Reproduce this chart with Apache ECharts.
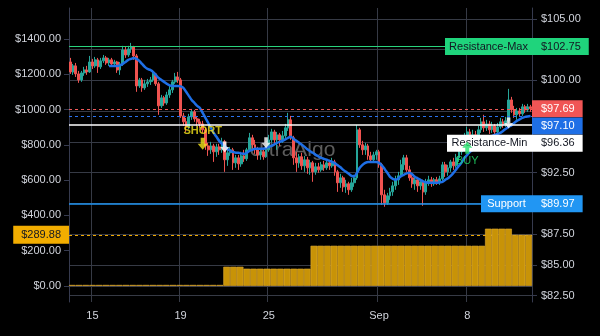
<!DOCTYPE html>
<html>
<head>
<meta charset="utf-8">
<script src="https://cdn.jsdelivr.net/npm/echarts@6/dist/echarts.min.js"></script>
<style>
  html, body { margin: 0; padding: 0; background: #000; }
  #chart { width: 600px; height: 336px; }
</style>
</head>
<body>
<div id="chart"></div>
<script>
// Day markers on the time axis (candle index -> label)
const dayTicks = [8, 40, 72, 112, 144];
const dayLabels = ['15', '19', '25', 'Sep', '8'];

// Candles: [open, close, low, high]
const ohlc = [
  [101.50,100.69,100.53,101.83],[100.69,101.18,100.45,101.34],[101.18,100.53,100.28,101.42],[100.53,100.04,99.80,100.77],
  [100.04,100.61,99.88,100.77],[100.61,100.85,100.37,101.10],[100.85,100.69,100.45,101.18],[100.69,101.50,100.61,101.99],
  [101.50,101.18,100.93,101.75],[101.18,101.67,101.02,101.91],[101.67,101.10,100.61,101.83],[101.10,101.59,100.93,101.83],
  [101.59,101.83,101.42,102.07],[101.83,101.42,101.26,101.99],[101.42,101.67,101.18,101.83],[101.67,101.34,101.10,101.83],
  [101.34,101.50,101.18,101.67],[101.50,100.85,100.61,101.59],[100.85,101.34,100.45,101.50],[101.34,102.48,101.18,102.81],
  [102.48,102.07,101.83,102.72],[102.07,102.56,101.91,102.81],[102.56,102.72,102.24,103.05],[102.72,101.99,101.67,102.81],
  [101.99,99.55,99.07,102.15],[99.55,100.04,99.39,100.20],[100.04,99.39,99.07,100.20],[99.39,99.72,99.23,100.04],
  [99.72,99.88,99.47,100.12],[99.88,100.04,99.63,100.28],[100.04,100.53,99.88,100.85],[100.53,99.72,99.55,100.61],
  [99.72,97.93,97.20,99.88],[97.93,98.58,97.76,98.82],[98.58,98.17,97.93,98.74],[98.17,98.82,98.01,99.07],
  [98.82,99.23,98.58,99.55],[99.23,99.88,98.98,100.04],[99.88,100.28,99.72,100.61],[100.28,100.04,99.80,100.69],
  [100.04,97.11,96.95,100.20],[97.11,96.63,96.30,97.36],[96.63,96.22,95.81,96.95],[96.22,97.03,96.06,97.28],
  [97.03,97.44,96.79,97.68],[97.44,96.87,96.63,97.60],[96.87,96.63,96.30,97.11],[96.63,96.46,96.14,96.87],
  [96.46,95.98,95.73,96.71],[95.98,94.67,94.35,96.14],[94.67,94.35,93.86,94.92],[94.35,94.67,94.02,95.00],
  [94.67,94.19,93.37,94.84],[94.19,94.59,93.78,94.84],[94.59,94.35,93.94,94.84],[94.35,95.00,94.11,95.33],
  [95.00,93.54,92.56,95.16],[93.54,94.11,93.05,94.35],[94.11,94.35,93.86,94.59],[94.35,93.29,92.72,94.51],
  [93.29,93.70,92.89,93.94],[93.70,93.21,92.72,93.94],[93.21,93.86,92.97,94.19],[93.86,93.62,93.37,94.35],
  [93.62,94.35,93.45,94.51],[94.35,95.33,94.19,95.73],[95.33,94.76,94.35,95.57],[94.76,94.35,94.02,95.16],
  [94.35,93.94,93.54,94.59],[93.94,94.19,93.54,94.43],[94.19,93.78,93.54,94.51],[93.78,94.35,93.70,94.67],
  [94.35,95.16,94.19,95.57],[95.16,95.81,94.92,96.06],[95.81,95.16,94.76,95.98],[95.16,95.57,94.35,95.81],
  [95.57,95.16,94.67,95.73],[95.16,95.49,94.92,95.89],[95.49,96.14,95.24,96.46],[96.14,96.79,95.89,97.36],
  [96.79,95.33,95.16,97.11],[95.33,93.70,93.13,95.49],[93.70,93.29,92.56,94.19],[93.29,93.78,92.89,94.02],
  [93.78,93.05,92.72,94.11],[93.05,93.54,92.56,93.86],[93.54,92.89,92.40,93.78],[92.89,93.29,92.32,93.54],
  [93.29,92.56,91.75,93.45],[92.56,92.97,92.32,93.29],[92.97,92.72,92.48,93.29],[92.72,93.13,92.56,93.37],
  [93.13,92.89,92.64,93.45],[92.89,93.29,92.72,93.62],[93.29,93.05,92.72,93.54],[93.05,93.37,92.89,93.70],
  [93.37,92.56,92.24,93.54],[92.56,91.67,90.93,92.72],[91.67,92.07,91.26,92.40],[92.07,91.34,90.93,92.24],
  [91.34,91.59,90.85,91.91],[91.59,91.10,90.69,91.75],[91.10,91.67,90.93,92.07],[91.67,92.07,91.34,92.32],
  [92.07,95.98,91.91,96.38],[95.98,94.76,94.51,96.14],[94.76,94.35,93.94,95.08],[94.35,94.67,93.94,94.92],
  [94.67,93.86,93.54,94.84],[93.86,93.54,93.29,94.19],[93.54,93.94,93.29,94.19],[93.94,94.19,93.54,94.35],
  [94.19,93.13,92.89,94.35],[93.13,90.69,89.88,93.29],[90.69,90.04,89.72,91.10],[90.04,90.61,89.88,90.85],
  [90.61,90.93,90.28,91.26],[90.93,91.42,90.61,91.75],[91.42,91.91,91.10,92.24],[91.91,92.24,91.50,92.56],
  [92.24,93.13,92.07,93.54],[93.13,93.70,92.72,93.94],[93.70,92.72,92.56,93.94],[92.72,92.07,91.83,93.05],
  [92.07,91.59,91.26,92.32],[91.59,91.91,91.10,92.15],[91.91,91.42,90.93,92.15],[91.42,91.75,91.10,91.99],
  [91.75,90.93,89.80,91.91],[90.93,91.67,90.69,91.99],[91.67,91.91,91.42,92.24],[91.91,91.59,91.34,92.15],
  [91.59,91.91,91.42,92.07],[91.91,91.67,91.50,92.15],[91.67,91.99,91.50,92.24],[91.99,93.13,91.83,93.37],
  [93.13,92.56,92.15,93.37],[92.56,92.89,92.24,93.13],[92.89,93.37,92.56,93.54],[93.37,93.05,92.72,93.70],
  [93.05,93.70,92.89,94.02],[93.70,94.19,93.37,94.35],[94.19,94.59,93.94,94.84],[94.59,95.41,94.35,95.73],
  [95.41,95.81,95.00,96.22],[95.81,95.33,95.00,96.06],[95.33,95.57,94.92,95.98],[95.57,95.16,94.84,95.89],
  [95.16,95.98,95.00,96.30],[95.98,96.63,95.73,96.95],[96.63,96.14,95.81,97.20],[96.14,96.46,95.89,96.79],
  [96.46,95.98,95.65,96.71],[95.98,96.30,95.73,96.63],[96.30,95.81,95.49,96.46],[95.81,96.22,95.65,96.54],
  [96.22,96.63,96.06,96.95],[96.63,96.38,96.14,96.87],[96.38,96.71,96.22,97.03],[96.71,98.41,96.46,99.31],
  [98.41,97.60,97.36,98.66],[97.60,97.20,96.95,97.93],[97.20,97.52,96.79,97.76],[97.52,97.28,97.03,97.76],
  [97.28,97.85,97.11,98.09],[97.85,97.60,97.36,98.01],[97.60,97.85,97.44,98.09],[97.85,97.69,97.44,98.01]
];

// Trend line (moving average), starts once its window is filled
const maTrend = [
  null,null,null,null,null,null,null,null,null,null,null,null,null,null,
  101.18,101.18,101.18,101.18,
  101.22,101.34,101.50,101.67,101.75,101.83,
  101.75,101.59,101.34,101.10,100.93,100.85,
  100.69,100.45,100.20,100.04,99.88,99.72,
  99.59,99.55,99.55,99.55,99.51,99.39,
  99.07,98.74,98.41,98.17,97.93,97.76,
  97.36,96.95,96.54,96.14,95.73,95.41,
  95.08,94.84,94.67,94.43,94.27,94.19,
  94.11,94.11,94.06,94.02,94.11,94.27,
  94.35,94.43,94.43,94.43,94.43,94.51,
  94.59,94.67,94.80,94.92,95.00,95.08,
  95.20,95.33,95.41,95.24,95.08,94.92,
  94.76,94.59,94.39,94.23,94.11,93.94,
  93.82,93.70,93.62,93.54,93.45,93.37,
  93.25,93.09,92.93,92.72,92.56,92.40,
  92.24,92.20,92.48,92.89,93.13,93.29,
  93.37,93.37,93.37,93.37,93.29,93.09,
  92.80,92.48,92.15,91.99,91.91,92.03,
  92.20,92.32,92.44,92.48,92.36,92.15,
  92.03,91.91,91.79,91.71,91.67,91.67,
  91.67,91.67,91.71,91.75,91.91,92.03,
  92.24,92.48,92.76,93.05,93.33,93.70,
  93.94,94.19,94.35,94.55,94.76,94.92,
  95.08,95.24,95.37,95.49,95.57,95.65,
  95.73,95.89,96.06,96.22,96.34,96.54,
  96.71,96.83,96.95,97.03,97.07,97.10
];

// Cumulative strategy profit, one step per bar period
const pnlSteps = [
  0,0,0,0,0,0,0,0,0,0,0,0,0,0,0,0,0,0,0,0,0,0,0,
  109,109,109,
  98,98,98,98,98,98,98,98,98,98,
  228,228,228,228,228,228,228,228,228,228,228,228,228,
  228,228,228,228,228,228,228,228,228,228,228,228,228,
  325,325,325,325,
  289.88,289.88,289.88
];

// Price levels
const resistanceMax = 102.75;
const resistanceMin = 96.36;
const supportLevel = 89.97;
const lastClose = ohlc[ohlc.length - 1][1];
const lastTrend = maTrend[maTrend.length - 1];
const lastPnl = pnlSteps[pnlSteps.length - 1];

// Trade signals: [candle index, price]
const shortSignals = [[48, 94.84]];
const exitSignals = [[56, 94.59], [71, 94.92], [159, 96.54]];
const buySignals = [[144, 94.51]];

const FONT = '"Liberation Sans", Arial, sans-serif';
const GRID = '#363a45';
const AXIS = '#363a4e';
const TEXT = '#d1d4dc';
const UP = '#26a69a';
const DOWN = '#ef5350';
const TREND = '#1e6fe6';

const money = v => '$' + v.toFixed(2);

// Tag on the right edge for a price level, with an optional name box inside the plot
function levelTag(value, bg, fg, name, nameWidth, drop) {
  let fmt = drop ? '{g| }\n' : '';
  if (name) fmt += '{n|' + name + '}';
  fmt += '{p|' + money(value) + '}';
  return {
    show: true,
    position: 'end',
    distance: name ? -(nameWidth + 8) : 0,
    formatter: fmt,
    rich: {
      g: { fontSize: 1, lineHeight: drop || 1, height: drop || 1, color: 'transparent' },
      n: { backgroundColor: bg, color: fg, padding: [3, 4], width: nameWidth, align: 'center',
           fontSize: 11, lineHeight: 13, fontFamily: FONT },
      p: { backgroundColor: bg, color: fg, padding: [3, 8, 3, 9],
           fontSize: 11, lineHeight: 13, fontFamily: FONT }
    }
  };
}

const downArrow = 'path://M3,0 L7,0 L7,6 L10,6 L5,12 L0,6 L3,6 Z';
const upArrow = 'path://M5,0 L10,6 L7,6 L7,12 L3,12 L3,6 L0,6 Z';

const tickOn = idx => dayTicks.indexOf(idx) >= 0;

const chart = echarts.init(document.getElementById('chart'), null, { renderer: 'canvas' });

chart.setOption({
  backgroundColor: '#000000',
  animation: false,
  grid: { left: 69, right: 68, top: 8, bottom: 34, containLabel: false, outerBoundsMode: 'none' },
  graphic: [{
    type: 'text', left: 249, top: 140, z: 0, silent: true,
    style: { text: 'UltraAlgo', fill: 'rgba(150,150,150,0.62)', font: '21px ' + FONT }
  }],
  xAxis: [{
    type: 'category',
    data: ohlc.map((_, i) => String(i)),
    boundaryGap: true,
    axisLine: { lineStyle: { color: AXIS } },
    axisTick: { show: true, interval: tickOn, length: 4, lineStyle: { color: GRID } },
    splitLine: { show: true, interval: tickOn, lineStyle: { color: GRID } },
    axisLabel: {
      interval: tickOn, color: TEXT, fontSize: 11, fontFamily: FONT, margin: 8,
      formatter: (v, i) => dayLabels[dayTicks.indexOf(i)] || ''
    }
  }, {
    type: 'category',
    data: pnlSteps.map((_, i) => String(i)),
    show: false,
    boundaryGap: true
  }],
  yAxis: [{
    type: 'value', position: 'left',
    min: -91, max: 1577, minInterval: 200, maxInterval: 200,
    axisLine: { show: true, lineStyle: { color: AXIS } },
    axisTick: { show: true, length: 5, lineStyle: { color: AXIS } },
    splitLine: { show: false },
    axisLabel: { color: TEXT, fontSize: 11, fontFamily: FONT, margin: 8,
                 showMinLabel: false, showMaxLabel: false, formatter: money }
  }, {
    type: 'value', position: 'right',
    min: 81.97, max: 105.89, minInterval: 2.5, maxInterval: 2.5,
    axisLine: { show: true, lineStyle: { color: AXIS } },
    axisTick: { show: true, length: 5, lineStyle: { color: AXIS } },
    splitLine: { show: true, showMinLine: false, showMaxLine: false, lineStyle: { color: GRID } },
    axisLabel: { color: TEXT, fontSize: 11, fontFamily: FONT, margin: 9,
                 showMinLabel: false, showMaxLabel: false, formatter: money }
  }],
  series: [{
    name: 'P&L',
    type: 'bar',
    xAxisIndex: 1, yAxisIndex: 0,
    data: pnlSteps,
    barCategoryGap: '0%',
    barMinHeight: 1,
    itemStyle: { color: '#c89307', borderColor: '#e3ad33', borderWidth: 0.6 },
    markLine: {
      silent: true, symbol: 'none', z: 1,
      lineStyle: { color: '#f0a800', type: [3, 3], width: 1 },
      label: {
        show: true, position: 'start', distance: 0,
        formatter: () => money(lastPnl),
        backgroundColor: '#f2ad00', color: '#131722', padding: [4, 8, 3, 8],
        fontSize: 11, fontFamily: FONT
      },
      data: [{ yAxis: lastPnl }]
    }
  }, {
    name: 'Price',
    type: 'candlestick',
    xAxisIndex: 0, yAxisIndex: 1,
    data: ohlc,
    barWidth: '85%',
    itemStyle: { color: UP, color0: DOWN, borderColor: UP, borderColor0: DOWN, borderWidth: 1 },
    markLine: {
      silent: true, symbol: 'none',
      data: [
        { yAxis: resistanceMax, lineStyle: { color: '#2ad37e', type: 'solid', width: 1.2 },
          label: levelTag(resistanceMax, '#1fd47c', '#131722', 'Resistance-Max', 79, 0) },
        { yAxis: lastClose, lineStyle: { color: '#f05a5a', type: [3, 3], width: 1 },
          label: levelTag(lastClose, '#f05555', '#ffffff', null, 0, 0) },
        { yAxis: lastTrend, lineStyle: { color: '#2a72ef', type: [3, 3], width: 1 },
          label: levelTag(lastTrend, TREND, '#ffffff', null, 0, 20) },
        { yAxis: resistanceMin, lineStyle: { color: '#ffffff', type: 'solid', width: 1.5 },
          label: levelTag(resistanceMin, '#ffffff', '#131722', 'Resistance-Min', 77, 36) },
        { yAxis: supportLevel, lineStyle: { color: '#2196f3', type: 'solid', width: 1.5 },
          label: levelTag(supportLevel, '#2196f3', '#ffffff', 'Support', 43, 0) }
      ]
    }
  }, {
    name: 'Trend',
    type: 'line',
    xAxisIndex: 0, yAxisIndex: 1,
    data: maTrend,
    smooth: 0.3,
    showSymbol: false,
    lineStyle: { color: TREND, width: 2.5 },
    z: 3
  }, {
    name: 'Short',
    type: 'scatter',
    xAxisIndex: 0, yAxisIndex: 1,
    data: shortSignals,
    symbol: downArrow, symbolSize: [10, 12],
    itemStyle: { color: '#f5e31a' },
    label: { show: true, position: 'top', distance: 1, formatter: 'SHORT',
             color: '#f5e31a', fontSize: 11, fontWeight: 'bold', fontFamily: FONT },
    z: 6
  }, {
    name: 'Exit',
    type: 'scatter',
    xAxisIndex: 0, yAxisIndex: 1,
    data: exitSignals,
    symbol: downArrow, symbolSize: [9, 11],
    itemStyle: { color: '#ffffff' },
    z: 6
  }, {
    name: 'Buy',
    type: 'scatter',
    xAxisIndex: 0, yAxisIndex: 1,
    data: buySignals,
    symbol: upArrow, symbolSize: [10, 12],
    itemStyle: { color: '#22e06a' },
    label: { show: true, position: 'bottom', distance: 2, formatter: 'BUY',
             color: '#22e06a', fontSize: 11, fontFamily: FONT },
    z: 6
  }]
});
</script>
</body>
</html>
